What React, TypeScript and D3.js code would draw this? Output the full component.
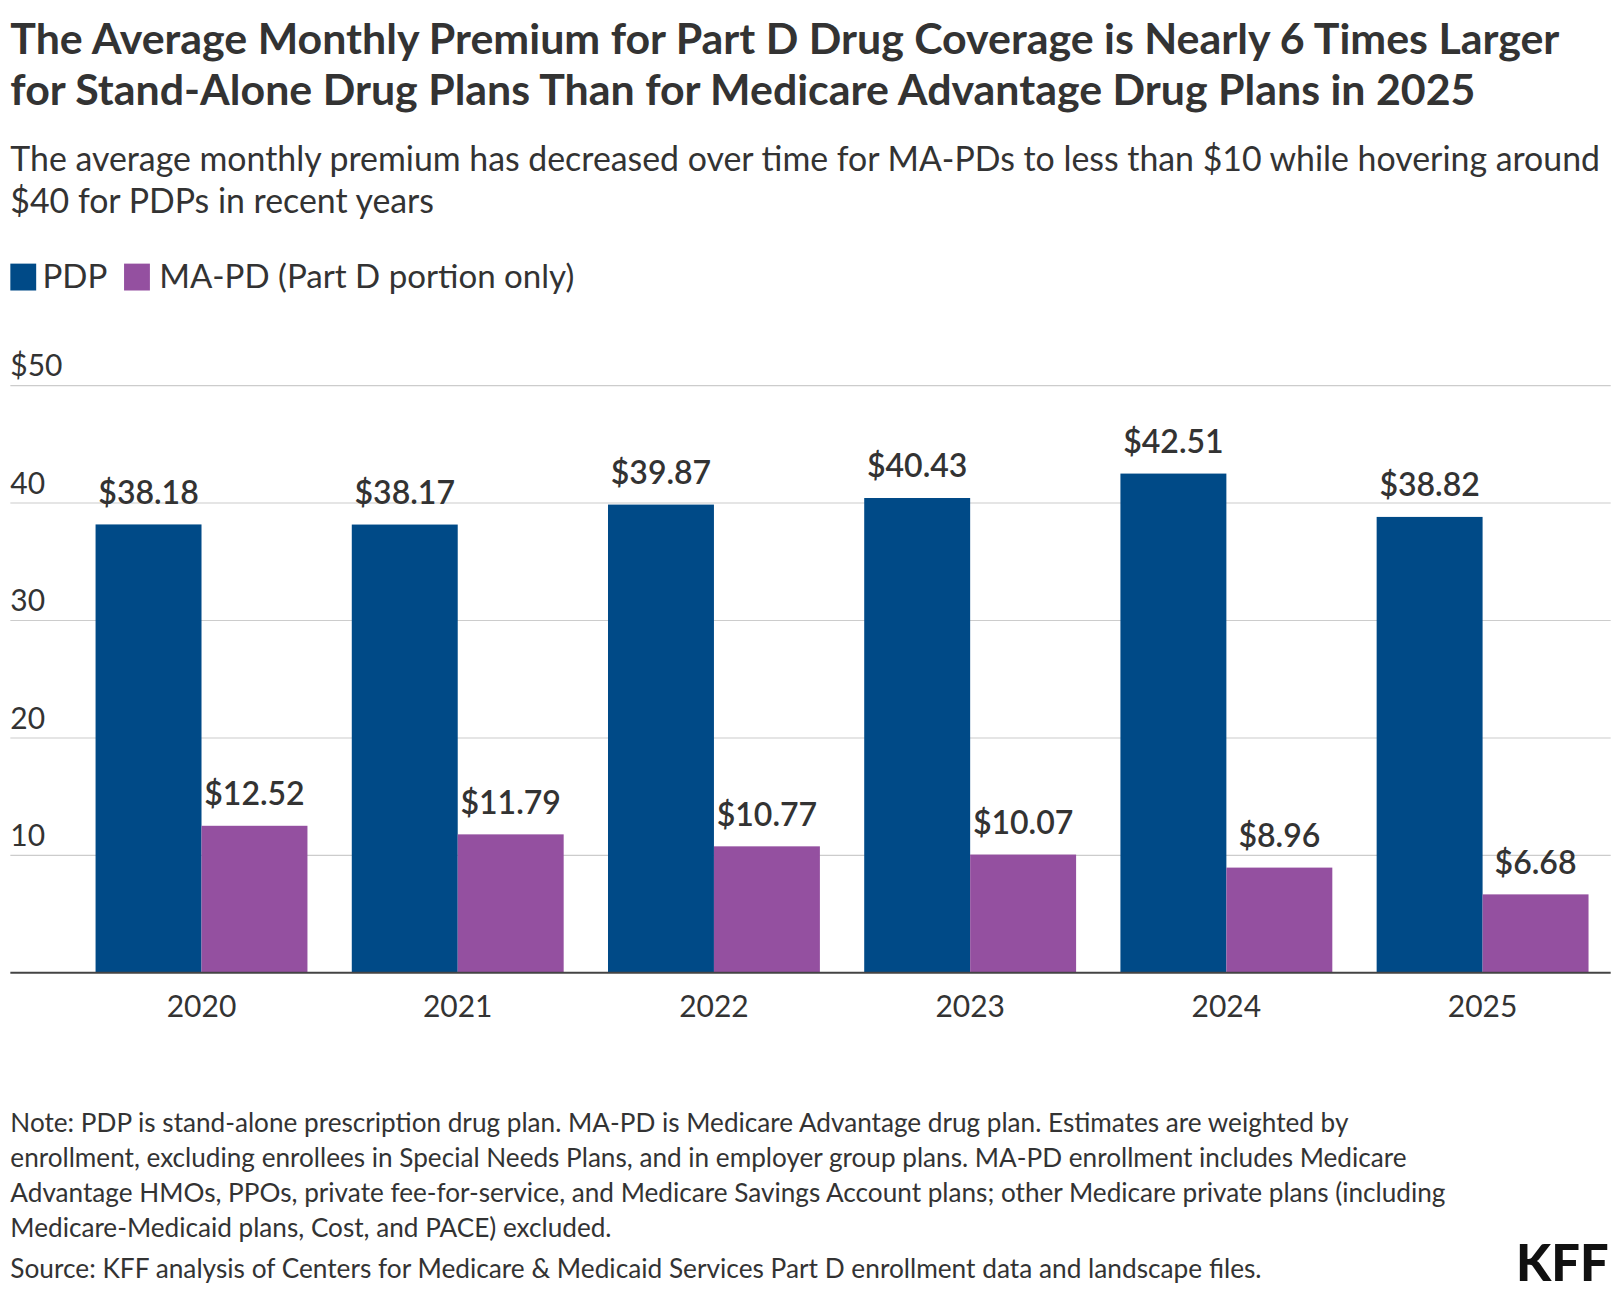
import React from "react";
import * as d3 from "d3";

const years = ["2020", "2021", "2022", "2023", "2024", "2025"];
const pdpValues = [38.18, 38.17, 39.87, 40.43, 42.51, 38.82];
const mapdValues = [12.52, 11.79, 10.77, 10.07, 8.96, 6.68];
const seriesNames = ["PDP", "MA-PD (Part D portion only)"];
const yTicks = [10, 20, 30, 40, 50];

const titleLines = [
  "The Average Monthly Premium for Part D Drug Coverage is Nearly 6 Times Larger",
  "for Stand-Alone Drug Plans Than for Medicare Advantage Drug Plans in 2025",
];
const subtitleLines = [
  "The average monthly premium has decreased over time for MA-PDs to less than $10 while hovering around",
  "$40 for PDPs in recent years",
];
const noteLines = [
  "Note: PDP is stand-alone prescription drug plan. MA-PD is Medicare Advantage drug plan. Estimates are weighted by",
  "enrollment, excluding enrollees in Special Needs Plans, and in employer group plans. MA-PD enrollment includes Medicare",
  "Advantage HMOs, PPOs, private fee-for-service, and Medicare Savings Account plans; other Medicare private plans (including",
  "Medicare-Medicaid plans, Cost, and PACE) excluded.",
];
const sourceLine =
  "Source: KFF analysis of Centers for Medicare & Medicaid Services Part D enrollment data and landscape files.";

const W = 1620;
const H = 1294;
const VW = 1567;
const VH = (H * VW) / W;
const FONT = "Lato, 'Noto Sans', sans-serif";
const TEXT = "#333333";
const COLORS = ["#004a87", "#9450a0"];

export default function App() {
  const plotLeft = 10;
  const plotRight = 1558;
  const y = d3.scaleLinear().domain([0, 50]).range([941, 373]);
  const x0 = d3
    .scaleBand<string>()
    .domain(years)
    .range([71, 1558])
    .paddingInner(0.173)
    .paddingOuter(0.0865);
  const x1 = d3
    .scaleBand<string>()
    .domain(["pdp", "mapd"])
    .range([0, x0.bandwidth()]);
  const fmt = d3.format("$.2f");

  return (
    <svg
      width={W}
      height={H}
      viewBox={`0 0 ${VW} ${VH}`}
      style={{ position: "absolute", left: 0, top: 0, background: "#fff" }}
      fontFamily={FONT}
    >
      <rect width={VW} height={VH} fill="#fff" />
      {titleLines.map((t, i) => (
        <text key={i} x={10} y={52 + i * 50} fontSize={41.5} fontWeight={700} fill={TEXT}>
          {t}
        </text>
      ))}
      {subtitleLines.map((t, i) => (
        <text key={i} x={10} y={165 + i * 41} fontSize={32.75} fill={TEXT}>
          {t}
        </text>
      ))}
      {/* legend */}
      <rect x={10} y={255} width={25} height={26} fill={COLORS[0]} />
      <text x={41} y={279} fontSize={32} fill={TEXT}>
        {seriesNames[0]}
      </text>
      <rect x={120} y={255} width={25} height={26} fill={COLORS[1]} />
      <text x={154} y={279} fontSize={32} fill={TEXT}>
        {seriesNames[1]}
      </text>

      {/* grid */}
      {yTicks.map((t) => (
        <g key={t}>
          <line x1={plotLeft} x2={plotRight} y1={y(t)} y2={y(t)} stroke="#cccccc" strokeWidth={1} />
          <text x={plotLeft} y={y(t) - 9} fontSize={29} fill={TEXT}>
            {t === 50 ? "$" + t : t}
          </text>
        </g>
      ))}

      {years.map((yr, i) => {
        const gx = x0(yr)!;
        const vals = [pdpValues[i], mapdValues[i]];
        return (
          <g key={yr} transform={`translate(${gx},0)`}>
            {vals.map((v, j) => {
              const key = j === 0 ? "pdp" : "mapd";
              const bx = x1(key)!;
              return (
                <g key={key}>
                  <rect
                    x={bx}
                    y={y(v)}
                    width={x1.bandwidth()}
                    height={y(0) - y(v)}
                    fill={COLORS[j]}
                  />
                  <text
                    x={bx + x1.bandwidth() / 2}
                    y={y(v) - 20}
                    textAnchor="middle"
                    fontSize={31}
                    fontWeight={600}
                    fill={TEXT}
                  >
                    {fmt(v)}
                  </text>
                </g>
              );
            })}
            <text
              x={x0.bandwidth() / 2}
              y={984}
              textAnchor="middle"
              fontSize={29}
              fill={TEXT}
            >
              {yr}
            </text>
          </g>
        );
      })}
      <line x1={plotLeft} x2={plotRight} y1={y(0)} y2={y(0)} stroke="#444" strokeWidth={2} />

      {noteLines.map((t, i) => (
        <text key={i} x={10} y={1095 + i * 34} fontSize={25.3} fill={TEXT}>
          {t}
        </text>
      ))}
      <text x={10} y={1236} fontSize={25.4} fill={TEXT}>
        {sourceLine}
      </text>
      <text
        x={1556}
        y={1239}
        textAnchor="end"
        fontSize={49}
        fontWeight={900}
        fill="#111"
      >
        KFF
      </text>
    </svg>
  );
}
